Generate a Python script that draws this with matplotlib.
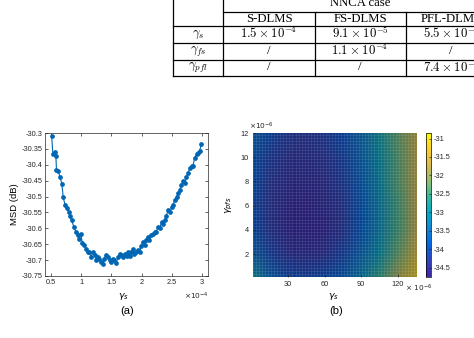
import numpy as np
import matplotlib
matplotlib.use("Agg")
import matplotlib.pyplot as plt
from matplotlib.colors import LinearSegmentedColormap
from matplotlib.lines import Line2D

plt.rcParams['font.family'] = ['Liberation Sans', 'DejaVu Sans']

# (a) MSD vs gamma_s (x en unidades de 1e-4)
gamma_s = [0.51, 0.53, 0.56, 0.58, 0.59, 0.62, 0.65, 0.68, 0.70, 0.73, 0.76, 0.79,
           0.81, 0.84, 0.88, 0.91, 0.94, 0.97, 0.99, 1.02, 1.05, 1.08, 1.11, 1.13,
           1.16, 1.19, 1.22, 1.25, 1.27, 1.30, 1.33, 1.36, 1.38, 1.41, 1.44, 1.47,
           1.50, 1.53, 1.55, 1.58, 1.61, 1.64, 1.66, 1.69, 1.72, 1.75, 1.77, 1.80,
           1.83, 1.86, 1.88, 1.91, 1.94, 1.97, 1.99, 2.02, 2.05, 2.08, 2.10, 2.13,
           2.16, 2.19, 2.22, 2.24, 2.27, 2.30, 2.33, 2.35, 2.38, 2.41, 2.44, 2.47,
           2.50, 2.52, 2.55, 2.58, 2.61, 2.63, 2.66, 2.69, 2.72, 2.74, 2.77, 2.80,
           2.83, 2.85, 2.88, 2.91, 2.94, 2.96, 2.99]
msd = [-30.309, -30.365, -30.360, -30.372, -30.415, -30.420, -30.440, -30.460, -30.500,
       -30.525, -30.535, -30.548, -30.560, -30.575, -30.596, -30.610, -30.620, -30.633,
       -30.617, -30.646, -30.654, -30.665, -30.676, -30.673, -30.690, -30.676, -30.684,
       -30.700, -30.690, -30.695, -30.706, -30.711, -30.695, -30.684, -30.690, -30.700,
       -30.706, -30.695, -30.700, -30.710, -30.690, -30.680, -30.684, -30.690, -30.680,
       -30.688, -30.676, -30.686, -30.673, -30.665, -30.680, -30.673, -30.667, -30.676,
       -30.656, -30.644, -30.651, -30.638, -30.628, -30.638, -30.622, -30.617, -30.610,
       -30.612, -30.596, -30.600, -30.580, -30.585, -30.575, -30.560, -30.543, -30.550,
       -30.532, -30.527, -30.510, -30.500, -30.490, -30.480, -30.463, -30.452, -30.457,
       -30.440, -30.425, -30.410, -30.404, -30.404, -30.378, -30.367, -30.362, -30.357,
       -30.335]

# (b) MSD (dB) sobre la malla gamma_s x gamma_pfs (unidades de 1e-6)
grid_gs = [1, 15, 30, 45, 60, 75, 90, 105, 120, 136]
grid_gpfs = [0.1, 2, 4, 6, 8, 10, 12]
msd_map = [
    [-32.9, -33.6, -34.0, -34.1, -34.0, -33.7, -33.2, -32.6, -31.9, -31.2],
    [-33.6, -34.1, -34.4, -34.5, -34.4, -34.1, -33.6, -33.0, -32.3, -31.5],
    [-33.9, -34.3, -34.6, -34.65, -34.6, -34.3, -33.8, -33.2, -32.5, -31.7],
    [-34.0, -34.35, -34.6, -34.65, -34.55, -34.3, -33.8, -33.2, -32.5, -31.7],
    [-33.9, -34.3, -34.5, -34.55, -34.45, -34.2, -33.7, -33.1, -32.4, -31.7],
    [-33.8, -34.2, -34.4, -34.45, -34.35, -34.1, -33.6, -33.0, -32.4, -31.7],
    [-33.6, -34.0, -34.25, -34.3, -34.2, -33.95, -33.5, -32.9, -32.3, -31.7],
]

# tabla de pasos
col_names = ['S-DLMS', 'FS-DLMS', 'PFL-DLMS']
row_names = [r'$\gamma_s$', r'$\gamma_{fs}$', r'$\gamma_{pfl}$']
cells = [
    [r'$1.5\times10^{-4}$', r'$9.1\times10^{-5}$', r'$5.5\times10^{-5}$'],
    ['/', r'$1.1\times10^{-4}$', '/'],
    ['/', '/', r'$7.4\times10^{-5}$'],
]

parula_rgb = [
    (0.2422, 0.1504, 0.6603), (0.1959, 0.2645, 0.7279), (0.0117, 0.3875, 0.8820),
    (0.0793, 0.5200, 0.8312), (0.0228, 0.6535, 0.7768), (0.2178, 0.7250, 0.6193),
    (0.5709, 0.7485, 0.4494), (0.8507, 0.7299, 0.3360), (0.9880, 0.8066, 0.1794),
    (0.9763, 0.9831, 0.0538)]
parula = LinearSegmentedColormap.from_list('parula', parula_rgb)
# la superficie se ve mas oscura por los bordes de la malla
parula_dark = LinearSegmentedColormap.from_list(
    'parula_dark', [tuple(0.66 * c for c in rgb) for rgb in parula_rgb])

W, H = 474, 338
fig = plt.figure(figsize=(W / 100, H / 100), dpi=100)


def fx(px):
    return px / W


def fy(py):
    return 1 - py / H


# --- tabla ---
lk = dict(color='black', lw=0.9, transform=fig.transFigure)
for xp in [173, 223]:
    fig.add_artist(Line2D([fx(xp), fx(xp)], [fy(0), fy(76)], **lk))
for xp in [315, 406]:
    fig.add_artist(Line2D([fx(xp), fx(xp)], [fy(12), fy(76)], **lk))
fig.add_artist(Line2D([fx(223), 1], [fy(12), fy(12)], **lk))
for yp in [26, 43, 60, 76]:
    fig.add_artist(Line2D([fx(173), 1], [fy(yp), fy(yp)], **lk))

tk = dict(ha='center', va='center', fontsize=9.2, family='Liberation Serif', math_fontfamily='cm')
fig.text(fx(360), fy(3), 'NNCA case', **tk)
col_x = [269, 360, 451]
row_y = [34.5, 51.5, 68]
for j, name in enumerate(col_names):
    fig.text(fx(col_x[j]), fy(19), name, **tk)
for i, name in enumerate(row_names):
    fig.text(fx(198), fy(row_y[i]), name, **tk)
    for j in range(3):
        fig.text(fx(col_x[j]), fy(row_y[i] - 1), cells[i][j], **tk)

# --- (a) ---
ax1 = fig.add_axes([fx(45), fy(276), fx(208 - 45), (276 - 133) / H])
ax1.plot(gamma_s, msd, '-o', color=(0.0, 0.40, 0.70), lw=0.8, ms=2.4)
ax1.set_xlim(0.4, 3.1)
ax1.set_ylim(-30.75, -30.3)
ax1.set_xticks([0.5, 1, 1.5, 2, 2.5, 3])
ax1.set_xticklabels(['0.5', '1', '1.5', '2', '2.5', '3'])
ax1.set_yticks(np.arange(-30.75, -30.29, 0.05))
ax1.set_yticklabels(['-30.75', '-30.7', '-30.65', '-30.6', '-30.55', '-30.5',
                     '-30.45', '-30.4', '-30.35', '-30.3'])
ax1.tick_params(direction='in', labelsize=5.3, length=2, width=0.5,
                top=True, right=True, colors='0.15', pad=2)
for s in ax1.spines.values():
    s.set_linewidth(0.5)
    s.set_color('0.15')
ax1.set_ylabel('MSD (dB)', fontsize=6.8, labelpad=2)
fig.text(fx(123), fy(296), r'$\gamma_s$', fontsize=6.8, ha='center', va='center',
         math_fontfamily='dejavusans')
fig.text(fx(196), fy(296), r'$\times10^{-4}$', fontsize=5.3, ha='center', va='center',
         math_fontfamily='dejavusans', color='0.15')
fig.text(fx(127), fy(311), '(a)', fontsize=8, ha='center', va='center')

# --- (b) ---
ax2 = fig.add_axes([fx(253), fy(277), fx(417 - 253), (277 - 133) / H])
mesh = ax2.pcolormesh(grid_gs, grid_gpfs, np.array(msd_map), cmap=parula_dark,
                      shading='gouraud', vmin=-34.75, vmax=-30.85)
ax2.set_xlim(grid_gs[0], grid_gs[-1])
ax2.set_ylim(grid_gpfs[0], grid_gpfs[-1])
ax2.set_xticks([30, 60, 90, 120])
ax2.set_yticks([2, 4, 6, 8, 10, 12])
ax2.set_xticks(np.arange(grid_gs[0], grid_gs[-1], 2.5), minor=True)
ax2.set_yticks(np.arange(grid_gpfs[0], grid_gpfs[-1], 0.25), minor=True)
ax2.grid(which='minor', color='white', alpha=0.16, lw=0.4)
ax2.tick_params(which='minor', length=0)
ax2.tick_params(direction='in', labelsize=5.3, length=2, width=0.5, colors='0.15', pad=3)
for s in ax2.spines.values():
    s.set_visible(False)
ax2.set_ylabel(r'$\gamma_{pfs}$', fontsize=6.8, labelpad=4, math_fontfamily='dejavusans')
fig.text(fx(261), fy(126), r'$\times10^{-6}$', fontsize=5.3, ha='center', va='center',
         math_fontfamily='dejavusans', color='0.15')
fig.text(fx(419), fy(288), r'$\times\ 10^{-6}$', fontsize=5.3, ha='center', va='center',
         math_fontfamily='dejavusans', color='0.15')
fig.text(fx(333), fy(297), r'$\gamma_s$', fontsize=6.8, ha='center', va='center',
         math_fontfamily='dejavusans')
fig.text(fx(336), fy(311), '(b)', fontsize=8, ha='center', va='center')

cax = fig.add_axes([fx(426), fy(277), fx(5), (277 - 133) / H])
cb = fig.colorbar(matplotlib.cm.ScalarMappable(norm=mesh.norm, cmap=parula), cax=cax)
cb.set_ticks([-31, -31.5, -32, -32.5, -33, -33.5, -34, -34.5])
cb.set_ticklabels(['-31', '-31.5', '-32', '-32.5', '-33', '-33.5', '-34', '-34.5'])
cb.ax.tick_params(direction='in', labelsize=5.3, length=1.5, width=0.5, colors='0.15', pad=2)
cb.outline.set_linewidth(0.5)

plt.savefig('out.png', dpi=100)
